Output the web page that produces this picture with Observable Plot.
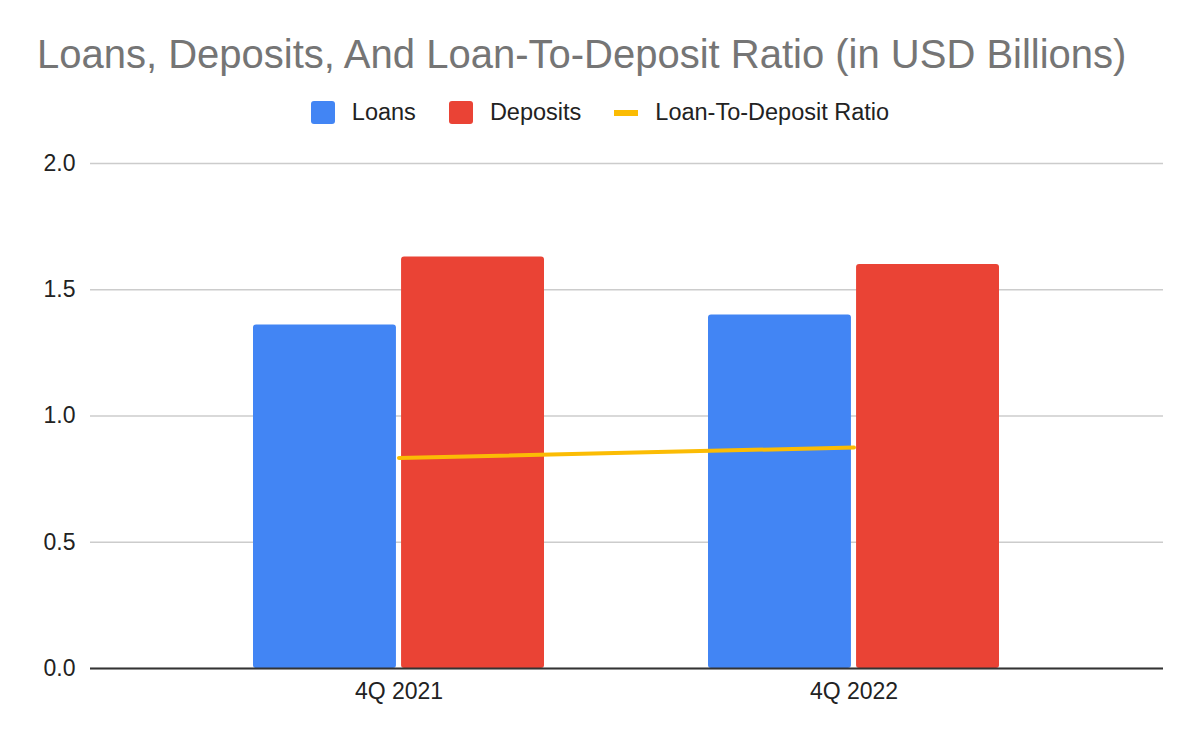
<!DOCTYPE html>
<html>
<head>
<meta charset="utf-8">
<script src="https://cdn.jsdelivr.net/npm/d3@7"></script>
<script src="https://cdn.jsdelivr.net/npm/@observablehq/plot@0.6"></script>
<style>
  html, body { margin: 0; padding: 0; background: #fff; }
  body { width: 1200px; height: 742px; overflow: hidden; font-family: Arial, "Liberation Sans", sans-serif; }
  #header { position: relative; height: 145px; }
  #title { position: absolute; left: 37px; top: 34px; font-size: 40px; color: #757575; white-space: nowrap; line-height: 1; }
  #legend { position: absolute; left: 0; width: 1200px; top: 99px; display: flex; justify-content: center; align-items: center; font-size: 23.5px; color: #222; }
  .item { display: flex; align-items: center; margin: 0 16.5px; }
  .sw { width: 24px; height: 23px; border-radius: 3px; margin-right: 17px; }
  .ln { width: 24px; height: 6px; margin-right: 17px; }
</style>
</head>
<body>
<div id="header">
  <div id="title"></div>
  <div id="legend"></div>
</div>
<div id="chart"></div>
<script>
const titleText = "Loans, Deposits, And Loan-To-Deposit Ratio (in USD Billions)";
const quarters = ["4Q 2021", "4Q 2022"];
const loans = [1.36, 1.40];
const deposits = [1.63, 1.60];
const ratio = [0.834, 0.875];
const seriesNames = ["Loans", "Deposits", "Loan-To-Deposit Ratio"];
const seriesColors = ["#4285f4", "#ea4335", "#fbbc04"];
const yTicks = [0, 0.5, 1.0, 1.5, 2.0];

document.getElementById("title").textContent = titleText;
const legend = document.getElementById("legend");
seriesNames.forEach((name, i) => {
  const it = document.createElement("div");
  it.className = "item";
  const sw = document.createElement("div");
  sw.className = i < 2 ? "sw" : "ln";
  sw.style.background = seriesColors[i];
  const t = document.createElement("span");
  t.textContent = name;
  it.appendChild(sw); it.appendChild(t);
  legend.appendChild(it);
});

const loanRows = quarters.map((q, i) => ({quarter: q, value: loans[i]}));
const depRows = quarters.map((q, i) => ({quarter: q, value: deposits[i]}));
const ratioRows = quarters.map((q, i) => ({quarter: q, value: ratio[i]}));

const width = 1200, height = 597;
const marginLeft = 90, marginRight = 37, marginTop = 18, marginBottom = 74;
const paddingInner = 0.36, paddingOuter = 0.357;
const step = (width - marginLeft - marginRight) / (quarters.length - paddingInner + 2 * paddingOuter);
const bw = step * (1 - paddingInner);
const half = bw / 2 + 2.2;

const chart = Plot.plot({
  width, height, marginLeft, marginRight, marginTop, marginBottom,
  style: {fontFamily: "Arial, 'Liberation Sans', sans-serif", color: "#222", background: "#fff"},
  x: {domain: quarters, paddingInner, paddingOuter, label: null},
  y: {domain: [0, 2], label: null},
  marks: [
    Plot.gridY(yTicks, {stroke: "#cccccc", strokeOpacity: 1, strokeWidth: 1.5}),
    Plot.axisY(yTicks, {tickFormat: d3.format(".1f"), tickSize: 0, tickPadding: 15, fontSize: 23, fill: "#222", label: null}),
    Plot.axisX({tickSize: 0, tickPadding: 14, fontSize: 23, fill: "#222", label: null}),
    Plot.barY(loanRows, {x: "quarter", y: "value", fill: seriesColors[0], insetRight: half, rx: 3}),
    Plot.barY(depRows, {x: "quarter", y: "value", fill: seriesColors[1], insetLeft: half, rx: 3}),
    Plot.ruleY([0], {stroke: "#333", strokeWidth: 2}),
    Plot.lineY(ratioRows, {x: "quarter", y: "value", stroke: seriesColors[2], strokeWidth: 4})
  ]
});
document.getElementById("chart").appendChild(chart);
</script>
</body>
</html>
